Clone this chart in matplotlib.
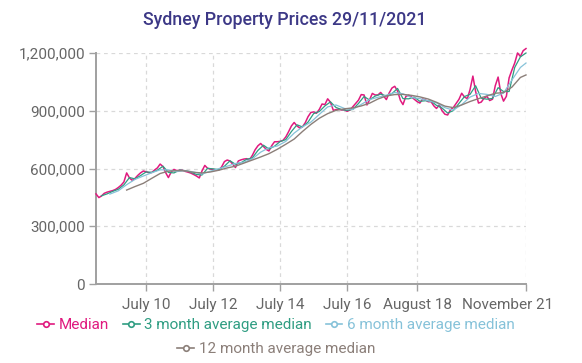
"""
Sydney property prices, median and moving averages
"""
import matplotlib

matplotlib.use("Agg")
import matplotlib.pyplot as plt
import matplotlib.transforms as mtransforms
import pandas as pd
from matplotlib.lines import Line2D
from matplotlib.ticker import FuncFormatter

plt.rcParams["font.family"] = ["Roboto", "DejaVu Sans"]

# monthly median, Jan 2009 .. Nov 2021
median_dates = pd.date_range("2009-01-01", periods=155, freq="MS")
median = [
    468000, 449000, 457000, 471000, 477000, 481000, 485000, 491000, 501000, 513000,
    530000, 577000, 551000, 538000, 548000, 564000, 577000, 587000, 583000, 578000,
    579000, 592000, 603000, 623000, 610000, 577000, 553000, 582000, 595000, 589000,
    591000, 591000, 585000, 581000, 576000, 569000, 561000, 551000, 587000, 616000,
    601000, 597000, 595000, 593000, 593000, 608000, 636000, 644000, 639000, 621000,
    605000, 639000, 645000, 649000, 651000, 645000, 668000, 697000, 718000, 730000,
    714000, 699000, 691000, 719000, 739000, 739000, 741000, 746000, 764000, 791000,
    821000, 839000, 821000, 810000, 816000, 838000, 869000, 891000, 894000, 887000,
    907000, 935000, 932000, 962000, 944000, 902000, 906000, 908000, 904000, 905000,
    897000, 904000, 921000, 938000, 955000, 984000, 982000, 930000, 956000, 990000,
    982000, 982000, 995000, 977000, 958000, 992000, 1018000, 1027000, 1003000, 954000,
    932000, 974000, 981000, 972000, 960000, 948000, 940000, 961000, 956000, 947000,
    947000, 925000, 912000, 930000, 900000, 882000, 878000, 905000, 917000, 938000,
    959000, 991000, 971000, 963000, 1010000, 1080000, 1000000, 940000, 945000, 965000,
    975000, 953000, 960000, 1030000, 1075000, 987000, 950000, 975000, 1071000, 1112000,
    1148000, 1200000, 1182000, 1212000, 1223000,
]

# 3 month average, every second month from Mar 2009
avg3_dates = pd.date_range("2009-03-01", periods=77, freq="2MS")
avg3 = [
    458000, 468000, 481000, 492000, 515000, 553000, 546000, 563000, 582000, 580000,
    591000, 612000, 580000, 577000, 592000, 589000, 581000, 569000, 566000, 601000,
    598000, 594000, 612000, 640000, 622000, 630000, 648000, 655000, 694000, 721000,
    701000, 716000, 740000, 750000, 792000, 827000, 816000, 841000, 885000, 896000,
    925000, 946000, 917000, 906000, 902000, 907000, 938000, 974000, 956000, 976000,
    986000, 977000, 989000, 1016000, 963000, 962000, 971000, 949000, 952000, 950000,
    928000, 914000, 888000, 901000, 938000, 974000, 985000, 1030000, 965000, 960000,
    964000, 1020000, 1000000, 1000000, 1125000, 1180000, 1200000,
]

# 6 month average, quarterly from Jun 2009 plus Nov 2021
avg6_dates = pd.date_range("2009-06-01", periods=50, freq="3MS").append(
    pd.DatetimeIndex(["2021-11-01"])
)
avg6 = [
    467000, 484000, 516000, 543000, 561000, 578000, 593000, 593000, 584000, 589000,
    582000, 571000, 586000, 599000, 612000, 626000, 633000, 650000, 685000, 708000,
    717000, 741000, 784000, 816000, 841000, 881000, 920000, 930000, 912000, 907000,
    933000, 958000, 970000, 981000, 995000, 988000, 969000, 963000, 952000, 941000,
    916000, 903000, 932000, 971000, 990000, 985000, 974000, 992000, 1060000, 1125000,
    1148000,
]

# 12 month average, quarterly from Dec 2009 plus Nov 2021
avg12_dates = pd.date_range("2009-12-01", periods=48, freq="3MS").append(
    pd.DatetimeIndex(["2021-11-01"])
)
avg12 = [
    488000, 506000, 523000, 549000, 574000, 586000, 589000, 588000, 580000, 577000,
    582000, 591000, 603000, 612000, 628000, 644000, 660000, 677000, 700000, 726000,
    753000, 792000, 829000, 861000, 885000, 902000, 910000, 915000, 925000, 939000,
    961000, 977000, 984000, 985000, 980000, 972000, 961000, 944000, 924000, 916000,
    930000, 948000, 963000, 977000, 991000, 994000, 1023000, 1073000, 1086000,
]

tick_dates = pd.to_datetime(
    ["2010-07-01", "2012-07-01", "2014-07-01", "2016-07-01", "2018-08-01", "2021-11-01"]
)
tick_labels = ["July 10", "July 12", "July 14", "July 16", "August 18", "November 21"]
y_ticks = [0, 300000, 600000, 900000, 1200000]

series = [
    ("Median", median_dates, median, "#e01a7f", 1.1),
    ("3 month average median", avg3_dates, avg3, "#2f9d82", 0.9),
    ("6 month average median", avg6_dates, avg6, "#86c2d9", 0.9),
    ("12 month average median", avg12_dates, avg12, "#8b7f79", 1.0),
]

fig = plt.figure(figsize=(5.82, 3.63), dpi=100)
ax = fig.add_axes([96 / 582, 1 - 284 / 363, 430 / 582, 231 / 363])

for name, dates, values, colour, lw in series:
    ax.plot(dates, values, color=colour, lw=lw, clip_on=False, zorder=3)

ax.set_xlim(median_dates[0], median_dates[-1])
ax.set_ylim(0, 1200000)
ax.set_xticks(tick_dates)
ax.set_xticklabels(tick_labels)
ax.set_yticks(y_ticks)
ax.yaxis.set_major_formatter(FuncFormatter(lambda v, _: f"{v:,.0f}"))

ax.grid(True, linestyle=(0, (3, 3)), color="#d9d9d9", lw=0.9)
for side in ("top", "right"):
    ax.spines[side].set_visible(False)
for side in ("left", "bottom"):
    ax.spines[side].set_color("#a0a0a0")
    ax.spines[side].set_linewidth(1.4)
ax.tick_params(colors="#a0a0a0", labelcolor="#666666", labelsize=11, length=5, width=1)
ax.tick_params(axis="x", pad=5)
ax.tick_params(axis="y", pad=3)

# last label is pulled in so it stays inside the canvas
last = ax.get_xticklabels()[-1]
last.set_transform(last.get_transform() + mtransforms.ScaledTranslation(-18 / 100, 0, fig.dpi_scale_trans))

fig.text(285 / 582, 1 - 20 / 363, "Sydney Property Prices 29/11/2021", ha="center", va="center",
         fontsize=12.8, fontweight="medium", color="#3c3886")

handles = [
    Line2D([], [], color=c, lw=1.2, marker="o", markersize=4, markerfacecolor="white",
           markeredgewidth=1.2)
    for _, _, _, c, _ in series
]
names = [s[0] for s in series]
leg1 = fig.legend(handles[:3], names[:3], loc="center", bbox_to_anchor=(276 / 582, 1 - 325 / 363),
                  ncol=3, frameon=False, fontsize=11, handlelength=1.1, handletextpad=0.3,
                  columnspacing=0.9, labelcolor="linecolor", borderpad=0)
leg2 = fig.legend(handles[3:], names[3:], loc="center", bbox_to_anchor=(276 / 582, 1 - 349 / 363),
                  ncol=1, frameon=False, fontsize=11, handlelength=1.1, handletextpad=0.3,
                  labelcolor="linecolor", borderpad=0)

fig.savefig("out.png", dpi=100)
